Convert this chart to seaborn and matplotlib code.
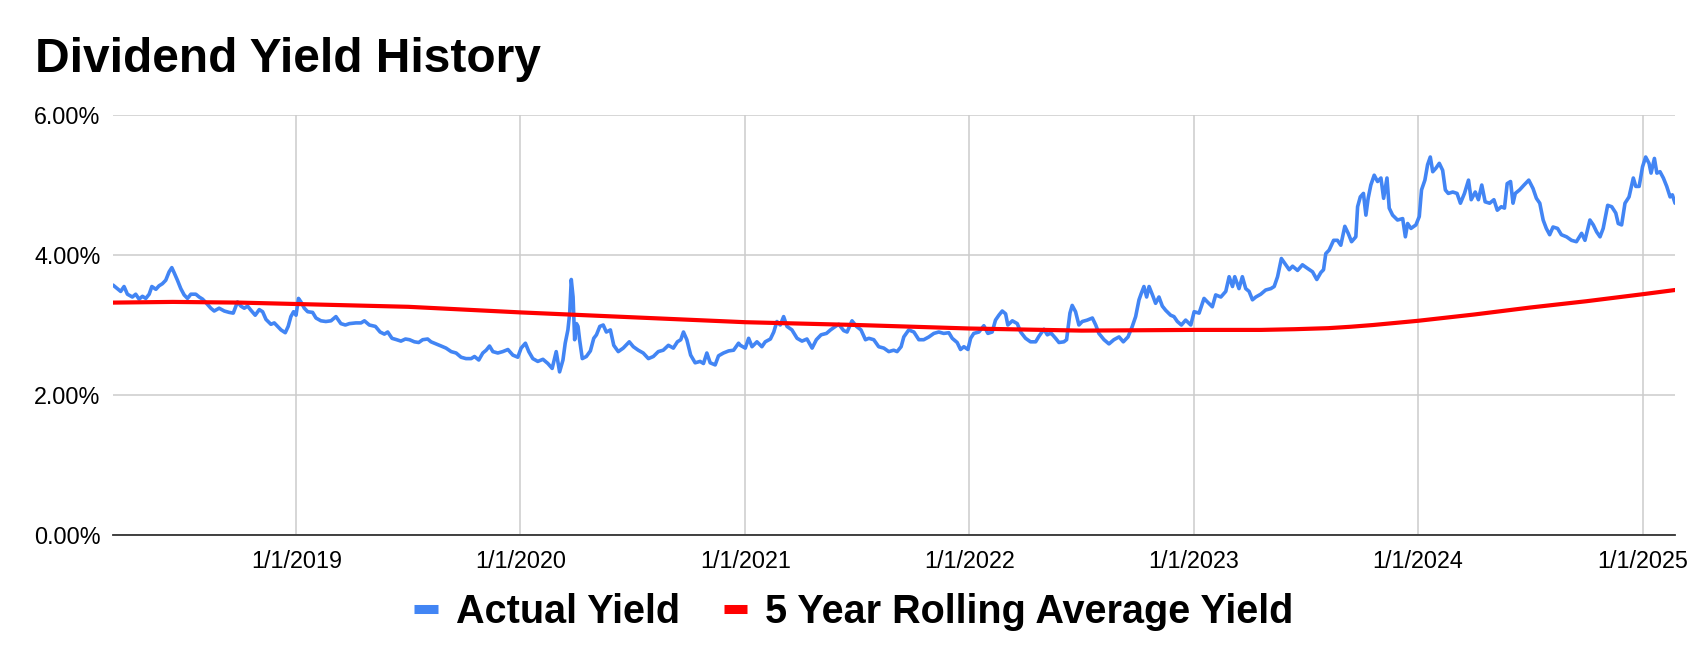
import pandas as pd
import numpy as np
import matplotlib
matplotlib.use("Agg")
import matplotlib.pyplot as plt
import matplotlib.dates as mdates
from matplotlib.ticker import PercentFormatter, FuncFormatter, MultipleLocator
import seaborn as sns

# Actual yield (decimal year, percent)
yield_years = [
    2018.183, 2018.202, 2018.217, 2018.232, 2018.247, 2018.269, 2018.284, 2018.299, 2018.314, 2018.329,
    2018.344, 2018.356, 2018.374, 2018.388, 2018.403, 2018.418, 2018.433, 2018.445, 2018.455, 2018.470,
    2018.485, 2018.500, 2018.515, 2018.530, 2018.552, 2018.567, 2018.582, 2018.597, 2018.619, 2018.634,
    2018.656, 2018.679, 2018.701, 2018.719, 2018.738, 2018.753, 2018.768, 2018.783, 2018.798, 2018.817,
    2018.835, 2018.850, 2018.865, 2018.887, 2018.902, 2018.917, 2018.932, 2018.951, 2018.964, 2018.976,
    2018.988, 2018.999, 2019.010, 2019.021, 2019.036, 2019.051, 2019.073, 2019.088, 2019.110, 2019.132,
    2019.155, 2019.177, 2019.199, 2019.219, 2019.237, 2019.266, 2019.289, 2019.304, 2019.326, 2019.353,
    2019.374, 2019.393, 2019.408, 2019.427, 2019.448, 2019.467, 2019.487, 2019.505, 2019.527, 2019.546,
    2019.564, 2019.586,
    2019.601, 2019.624, 2019.646, 2019.668, 2019.691, 2019.713, 2019.735, 2019.757, 2019.780, 2019.795,
    2019.814, 2019.832, 2019.847, 2019.862, 2019.877, 2019.899, 2019.921, 2019.944, 2019.966, 2019.988,
    2020.003, 2020.022, 2020.037, 2020.055, 2020.077, 2020.100, 2020.122, 2020.141, 2020.159, 2020.174,
    2020.189, 2020.199, 2020.211, 2020.219, 2020.226, 2020.234, 2020.241, 2020.249, 2020.256, 2020.263,
    2020.275, 2020.293, 2020.311, 2020.326, 2020.338, 2020.353, 2020.368, 2020.382, 2020.400, 2020.415,
    2020.435, 2020.457, 2020.484, 2020.502, 2020.524, 2020.546, 2020.569, 2020.591, 2020.613, 2020.635,
    2020.658, 2020.680, 2020.698, 2020.713, 2020.725, 2020.740, 2020.757, 2020.777, 2020.799, 2020.814,
    2020.829, 2020.844, 2020.866, 2020.881, 2020.903, 2020.926, 2020.948, 2020.970,
    2020.978, 2021.000, 2021.015, 2021.030, 2021.052, 2021.074, 2021.089, 2021.112, 2021.127, 2021.141,
    2021.156, 2021.171, 2021.186, 2021.208, 2021.231, 2021.253, 2021.275, 2021.298, 2021.317, 2021.338,
    2021.362, 2021.380, 2021.402, 2021.417, 2021.439, 2021.454, 2021.476, 2021.496, 2021.516, 2021.536,
    2021.551, 2021.573, 2021.595, 2021.618, 2021.640, 2021.662, 2021.677, 2021.695, 2021.707, 2021.729,
    2021.752, 2021.774, 2021.796, 2021.819, 2021.841, 2021.863, 2021.885, 2021.908, 2021.923, 2021.945,
    2021.960, 2021.975, 2021.993, 2022.005, 2022.019, 2022.042, 2022.064, 2022.082, 2022.101, 2022.116,
    2022.131, 2022.146, 2022.161, 2022.171, 2022.191, 2022.213, 2022.228, 2022.250, 2022.272, 2022.295,
    2022.310, 2022.332, 2022.347, 2022.359,
    2022.365, 2022.384, 2022.399, 2022.421, 2022.433, 2022.448, 2022.458, 2022.473, 2022.488, 2022.503,
    2022.525, 2022.548, 2022.563, 2022.577, 2022.600, 2022.622, 2022.644, 2022.667, 2022.686, 2022.707,
    2022.726, 2022.741, 2022.756, 2022.766, 2022.778, 2022.790, 2022.801, 2022.816, 2022.830, 2022.845,
    2022.860, 2022.875, 2022.897, 2022.912, 2022.927, 2022.945, 2022.964, 2022.987, 2023.002, 2023.024,
    2023.046, 2023.061, 2023.083, 2023.098, 2023.121, 2023.143, 2023.158, 2023.173, 2023.183, 2023.202,
    2023.217, 2023.232, 2023.247, 2023.262, 2023.277, 2023.299, 2023.321, 2023.344, 2023.359, 2023.374,
    2023.391, 2023.411, 2023.426, 2023.441, 2023.463, 2023.485, 2023.507, 2023.530, 2023.549, 2023.567,
    2023.579, 2023.589, 2023.604, 2023.624, 2023.641, 2023.656, 2023.674, 2023.689, 2023.704, 2023.723,
    2023.731, 2023.743,
    2023.757, 2023.768, 2023.778, 2023.790, 2023.805, 2023.820, 2023.835, 2023.847, 2023.862, 2023.872,
    2023.887, 2023.909, 2023.932, 2023.944, 2023.954, 2023.969, 2023.991, 2024.006, 2024.016, 2024.031,
    2024.043, 2024.055, 2024.066, 2024.080, 2024.095, 2024.110, 2024.122, 2024.135, 2024.155, 2024.174,
    2024.189, 2024.207, 2024.225, 2024.237, 2024.255, 2024.269, 2024.284, 2024.299, 2024.319, 2024.338,
    2024.353, 2024.371, 2024.385, 2024.397, 2024.412, 2024.423, 2024.433, 2024.452, 2024.472, 2024.493,
    2024.512, 2024.527, 2024.542, 2024.557, 2024.571, 2024.586, 2024.601, 2024.621, 2024.638, 2024.661,
    2024.683, 2024.705, 2024.728, 2024.743, 2024.765, 2024.780, 2024.795, 2024.810, 2024.824, 2024.844,
    2024.862, 2024.880, 2024.891, 2024.906, 2024.921, 2024.939, 2024.958, 2024.969, 2024.984, 2024.999,
    2025.013, 2025.028, 2025.037, 2025.052, 2025.063, 2025.077, 2025.092, 2025.107, 2025.122, 2025.132,
    2025.144,
]
actual_yield = [
    3.57, 3.52, 3.48, 3.55, 3.44, 3.40, 3.44, 3.37, 3.41, 3.38,
    3.44, 3.55, 3.51, 3.56, 3.59, 3.64, 3.76, 3.82, 3.75, 3.64,
    3.52, 3.43, 3.38, 3.44, 3.44, 3.40, 3.37, 3.32, 3.24, 3.20,
    3.24, 3.20, 3.18, 3.17, 3.33, 3.27, 3.24, 3.27, 3.21, 3.14,
    3.22, 3.19, 3.08, 3.01, 3.03, 2.98, 2.93, 2.89, 2.98, 3.12,
    3.19, 3.14, 3.38, 3.33, 3.24, 3.19, 3.18, 3.10, 3.06, 3.05,
    3.06, 3.12, 3.02, 3.00, 3.02, 3.03, 3.03, 3.06, 3.00, 2.98,
    2.90, 2.87, 2.90, 2.81, 2.79, 2.77, 2.80, 2.79, 2.76, 2.75,
    2.79, 2.80,
    2.76, 2.73, 2.70, 2.67, 2.62, 2.60, 2.54, 2.52, 2.52, 2.55,
    2.50, 2.60, 2.64, 2.70, 2.62, 2.60, 2.62, 2.65, 2.57, 2.54,
    2.67, 2.74, 2.62, 2.52, 2.48, 2.51, 2.45, 2.38, 2.62, 2.33,
    2.50, 2.74, 2.93, 3.17, 3.65, 3.40, 2.79, 3.02, 2.98, 2.79,
    2.52, 2.55, 2.63, 2.81, 2.86, 2.98, 3.00, 2.90, 2.93, 2.71,
    2.62, 2.67, 2.76, 2.69, 2.64, 2.60, 2.52, 2.55, 2.62, 2.64,
    2.71, 2.67, 2.76, 2.79, 2.90, 2.79, 2.57, 2.46, 2.48, 2.45,
    2.60, 2.46, 2.43, 2.56, 2.60, 2.63, 2.64, 2.74,
    2.71, 2.67, 2.81, 2.69, 2.76, 2.69, 2.76, 2.80, 2.90, 3.05,
    3.00, 3.12, 2.98, 2.93, 2.81, 2.77, 2.80, 2.67, 2.79, 2.86,
    2.88, 2.93, 2.98, 3.01, 2.92, 2.90, 3.06, 2.98, 2.93, 2.79,
    2.81, 2.79, 2.69, 2.67, 2.62, 2.64, 2.62, 2.69, 2.83, 2.93,
    2.90, 2.79, 2.79, 2.83, 2.88, 2.90, 2.88, 2.89, 2.81, 2.75,
    2.65, 2.69, 2.65, 2.81, 2.88, 2.90, 2.99, 2.88, 2.90, 3.07,
    3.14, 3.20, 3.16, 3.00, 3.06, 3.02, 2.90, 2.81, 2.76, 2.76,
    2.84, 2.94, 2.86, 2.88,
    2.88, 2.81, 2.75, 2.76, 2.79, 3.17, 3.28, 3.19, 3.00, 3.05,
    3.07, 3.10, 3.00, 2.88, 2.79, 2.73, 2.79, 2.83, 2.76, 2.83,
    2.98, 3.12, 3.36, 3.45, 3.55, 3.40, 3.55, 3.43, 3.31, 3.40,
    3.27, 3.21, 3.14, 3.12, 3.05, 3.00, 3.07, 3.00, 3.19, 3.17,
    3.38, 3.33, 3.26, 3.43, 3.40, 3.48, 3.69, 3.55, 3.69, 3.52,
    3.69, 3.52, 3.48, 3.36, 3.40, 3.44, 3.50, 3.52, 3.55, 3.69,
    3.95, 3.86, 3.79, 3.84, 3.78, 3.86, 3.81, 3.76, 3.65, 3.75,
    3.79, 4.02, 4.07, 4.21, 4.21, 4.14, 4.41, 4.31, 4.19, 4.26,
    4.69, 4.83,
    4.88, 4.57, 4.81, 5.00, 5.14, 5.05, 5.10, 4.81, 5.10, 4.67,
    4.57, 4.50, 4.52, 4.26, 4.45, 4.38, 4.43, 4.55, 4.93, 5.07,
    5.29, 5.40, 5.19, 5.24, 5.31, 5.21, 4.93, 4.88, 4.90, 4.88,
    4.74, 4.88, 5.07, 4.79, 4.90, 4.79, 5.00, 4.76, 4.74, 4.79,
    4.64, 4.69, 4.67, 5.02, 5.05, 4.74, 4.88, 4.93, 5.00, 5.07,
    4.95, 4.81, 4.74, 4.50, 4.38, 4.29, 4.40, 4.38, 4.29, 4.26,
    4.21, 4.19, 4.31, 4.21, 4.50, 4.43, 4.33, 4.26, 4.38, 4.71,
    4.69, 4.60, 4.45, 4.43, 4.74, 4.83, 5.10, 4.98, 4.98, 5.26,
    5.40, 5.31, 5.17, 5.38, 5.17, 5.19, 5.10, 4.98, 4.83, 4.86,
    4.74,
]

# 5 year rolling average yield
rolling_years = [2018.183, 2018.45, 2018.75, 2019.0, 2019.5, 2020.0, 2020.5, 2021.0, 2021.5,
                 2022.0, 2022.5, 2023.0, 2023.3, 2023.45, 2023.6, 2023.7, 2023.8, 2023.9,
                 2024.0, 2024.25, 2024.5, 2024.75, 2025.0, 2025.144]
rolling_yield = [3.32, 3.33, 3.32, 3.30, 3.26, 3.18, 3.11, 3.04, 3.00,
                 2.95, 2.92, 2.93, 2.93, 2.94, 2.955, 2.975, 3.00, 3.03,
                 3.06, 3.15, 3.25, 3.34, 3.44, 3.50]


def to_date(y):
    yr = int(y)
    start = pd.Timestamp(yr, 1, 1)
    end = pd.Timestamp(yr + 1, 1, 1)
    return start + (end - start) * (y - yr)


actual = pd.DataFrame({"date": [to_date(y) for y in yield_years], "yield": actual_yield})
rolling = pd.DataFrame({"date": [to_date(y) for y in rolling_years], "yield": rolling_yield})

sns.set_style("white")
plt.rcParams["font.family"] = ["Liberation Sans", "DejaVu Sans"]
plt.rcParams["text.color"] = "black"
plt.rcParams["axes.labelcolor"] = "black"

fig = plt.figure(figsize=(17.08, 6.66), dpi=100)
ax = fig.add_axes([0.0662, 0.1967, 0.9145, 0.6306])

sns.lineplot(data=actual, x="date", y="yield", ax=ax, color="#4285F4",
             linewidth=2.6, estimator=None, label="Actual Yield")
sns.lineplot(data=rolling, x="date", y="yield", ax=ax, color="#FF0000",
             linewidth=3.0, estimator=None, label="5 Year Rolling Average Yield")

ax.set_xlim(actual["date"].iloc[0], actual["date"].iloc[-1])
ax.set_ylim(0, 6)
ax.yaxis.set_major_locator(MultipleLocator(2))
ax.yaxis.set_major_formatter(PercentFormatter(xmax=100, decimals=2))
ax.xaxis.set_major_locator(mdates.YearLocator())
ax.xaxis.set_major_formatter(FuncFormatter(
    lambda x, pos: "{}/{}/{}".format(mdates.num2date(x).month, mdates.num2date(x).day, mdates.num2date(x).year)))

ax.grid(True, color="#cccccc", linewidth=1.1)
ax.set_axisbelow(True)
for side in ["top", "right", "left"]:
    ax.spines[side].set_visible(False)
ax.spines["bottom"].set_color("#333333")
ax.spines["bottom"].set_linewidth(1.3)
ax.tick_params(axis="both", length=0, labelsize=16.8, colors="black", labelcolor="black")
ax.tick_params(axis="x", pad=11)
ax.tick_params(axis="y", pad=9)
ax.set_xlabel("")
ax.set_ylabel("")

handles, labels = ax.get_legend_handles_labels()
ax.get_legend().remove()
leg = fig.legend(handles, labels, loc="center", bbox_to_anchor=(0.5, 0.081), ncol=2,
                 frameon=False, handlelength=0.6, handletextpad=0.45, columnspacing=1.1,
                 prop={"weight": "bold", "size": 28.5}, labelcolor="black")
for h in leg.legend_handles:
    h.set_linewidth(6.5)
    h.set_solid_capstyle("butt")

fig.text(0.0205, 1 - 72 / 666, "Dividend Yield History", fontsize=34.5, fontweight="bold",
         color="black", ha="left", va="baseline")

fig.savefig("out.png", dpi=100)
